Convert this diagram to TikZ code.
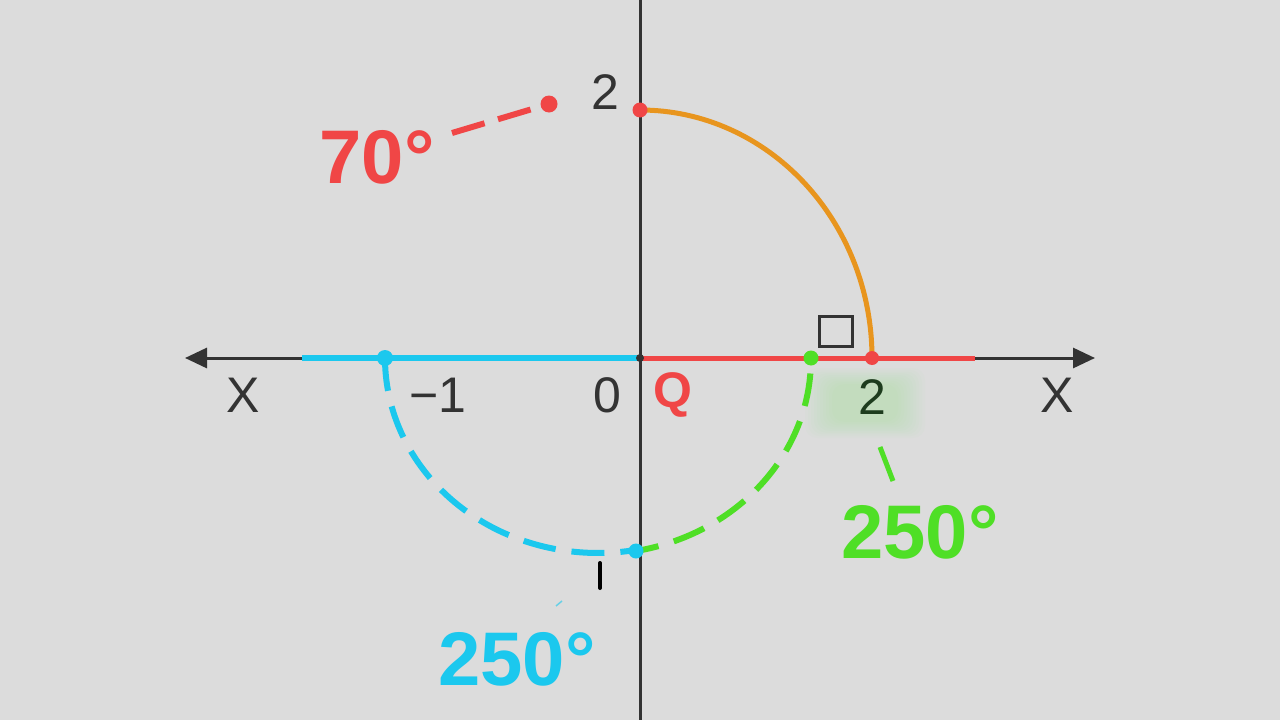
\documentclass[tikz,border=0pt]{standalone}
\usepackage{fontspec}
\setmainfont{Liberation Sans}
\usetikzlibrary{arrows.meta}
\definecolor{bg}{HTML}{DCDCDC}
\definecolor{axis}{HTML}{333333}
\definecolor{myred}{HTML}{F04646}
\definecolor{myorange}{HTML}{E8951E}
\definecolor{mycyan}{HTML}{1BC8EE}
\definecolor{mygreen}{HTML}{4FDF26}
\tikzset{
  axisline/.style={draw=axis,line width=3pt},
  seg/.style={line width=5pt},
  dashseg/.style={line width=6pt,dash pattern=on 33pt off 16pt},
  dot/.style={circle,inner sep=0pt,minimum size=15pt},
  lab/.style={inner sep=0pt,font=\fontsize{50}{54}\selectfont,text=axis},
  deg/.style={inner sep=0pt,font=\bfseries\fontsize{76}{80}\selectfont},
}
\begin{document}
\begin{tikzpicture}[x=1pt,y=-1pt]
\useasboundingbox (0,0) rectangle (1280,720);
\fill[bg] (0,0) rectangle (1280,720);
% soft glow behind right 2
\foreach \i in {0,3,...,27}{
  \fill[mygreen,opacity=0.014,rounded corners=12pt] (805+\i,368+\i*0.6) rectangle (925-\i,438-\i*0.6);
}
% coordinates
\coordinate (Ytop) at (640,0);
\coordinate (Ybot) at (640,720);
\coordinate (Xl) at (185,358);
\coordinate (Xr) at (1095,358);
\coordinate (O) at (640,358);
\coordinate (Bl) at (302,358);
\coordinate (Rr) at (975,358);
% axes
\draw[axisline] (Ytop) -- (Ybot);
\draw[axisline,-{Triangle[length=22pt,width=20pt]}] (O) -- (Xl);
\draw[axisline,-{Triangle[length=22pt,width=20pt]}] (O) -- (Xr);
% coloured segments
\draw[line width=6pt,mycyan] (Bl) -- (O);
\draw[seg,myred] (O) -- (Rr);
% points
\coordinate (Pt) at (640,110);
\coordinate (P2) at (872,358);
\coordinate (Pb) at (385,358);
\coordinate (Pg) at (811,358);
\coordinate (Pc) at (636,551);
% orange arc
\draw[seg,myorange] (Pt) arc[start angle=90,end angle=0,x radius=232pt,y radius=248pt];
% lower dashed arc
\draw[dashseg,mycyan] (Pb) arc[start angle=180,end angle=280.3,x radius=213pt,y radius=195pt];
\draw[dashseg,mygreen,dash phase=10pt] (Pc) arc[start angle=280.3,end angle=360,x radius=213pt,y radius=195pt];
% dots
\node[dot,fill=axis,minimum size=8pt] (do) at (O) {};
\node[dot,fill=myred] (dt) at (Pt) {};
\node[dot,fill=myred,minimum size=14pt] (d2) at (P2) {};
\node[dot,fill=mycyan,minimum size=16pt] (db) at (Pb) {};
\node[dot,fill=mygreen] (dg) at (Pg) {};
\node[dot,fill=mycyan] (dc) at (Pc) {};
% red pointer
\node[dot,fill=myred,minimum size=17pt] (dr) at (549,104) {};
\coordinate (rs) at (452,133);
\draw[line width=6pt,myred,dash pattern=on 34pt off 14pt] (rs) -- (dr.center);
% square
\draw[axis,line width=3pt] (819,316) rectangle (852,346);
% tick
\coordinate (t1) at (600,563);
\coordinate (t2) at (600,588);
\draw[black,line width=4pt,line cap=round] (t1) -- (t2);
% green pointer
\coordinate (g1) at (880,447);
\coordinate (g2) at (893,481);
\draw[line width=5pt,mygreen] (g1) -- (g2);
% faint cyan mark
\coordinate (c1) at (556,606);
\coordinate (c2) at (562,601);
\draw[line width=1.5pt,mycyan,opacity=0.6] (c1) -- (c2);
% labels
\node[lab] (ly2) at (605,92) {2};
\node[lab] (lxl) at (243,395) {X};
\node[lab] (lm1) at (438,395) {−1};
\node[lab] (l0) at (607,395) {0};
\node[lab,text=myred] (lq) at (673,395) {\bfseries Q};
\node[lab,text={rgb,255:red,30;green,60;blue,30}] (lx2) at (872,397) {2};
\node[lab] (lxr) at (1057,395) {X};
\node[deg,text=myred] (l70) at (377,157) {70°};
\node[deg,text=mygreen] (lg) at (920,532) {250°};
\node[deg,text=mycyan] (lc) at (517,659) {250°};
\end{tikzpicture}
\end{document}
